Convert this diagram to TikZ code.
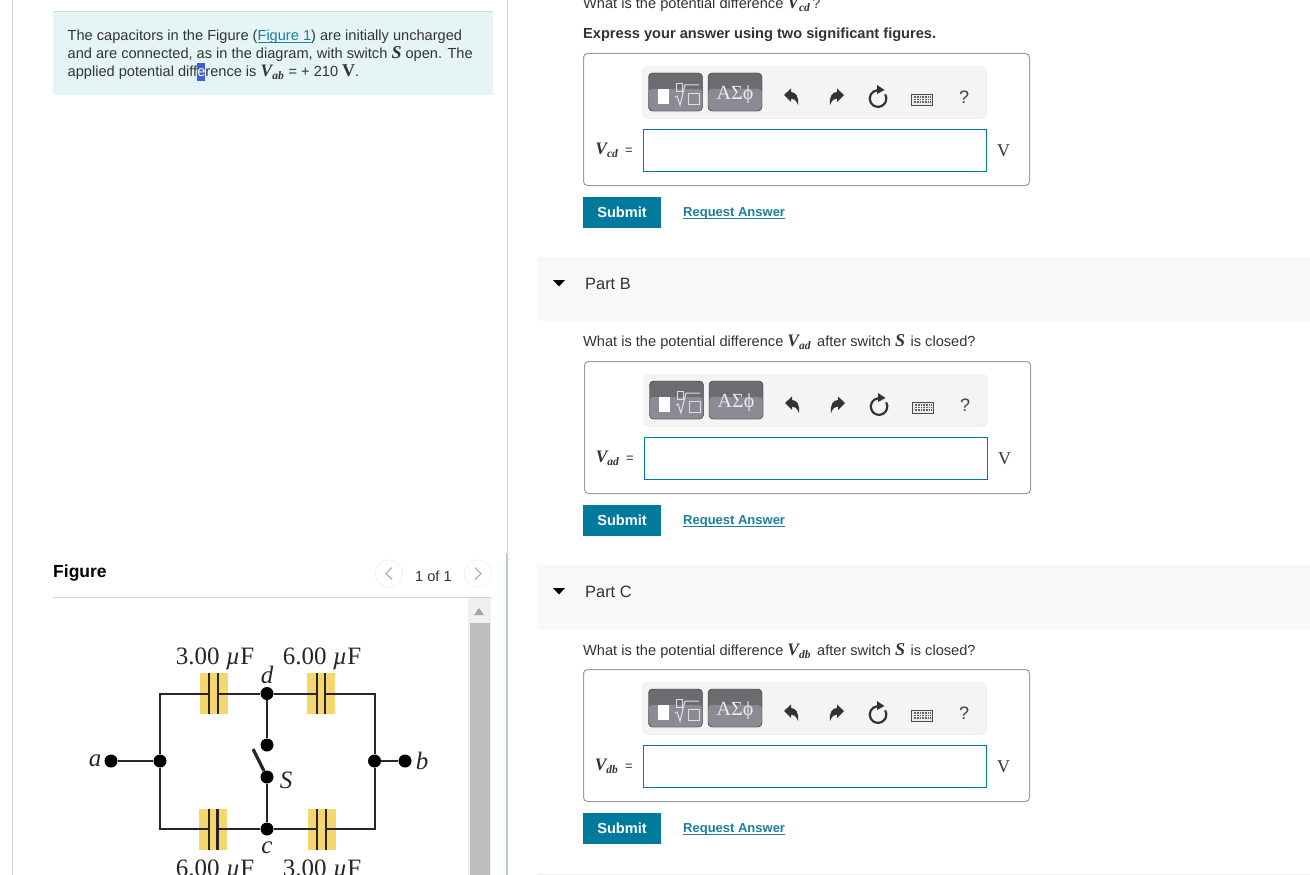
\documentclass[tikz,border=0pt]{standalone}
\usepackage{fontspec}
\usetikzlibrary{positioning}
\setmainfont{Liberation Sans}
\newfontfamily\timesfont{Liberation Serif}
\definecolor{bodygray}{HTML}{333333}
\definecolor{panelline}{HTML}{D3D6D9}
\definecolor{tealbox}{HTML}{E5F5F6}
\definecolor{linkteal}{HTML}{1A7FA0}
\definecolor{btnteal}{HTML}{007A9C}
\definecolor{capyellow}{HTML}{F5D76E}
\definecolor{wirecol}{HTML}{262626}
\definecolor{selblue}{HTML}{3A62D8}
\definecolor{bandgray}{HTML}{F8F8F8}
\definecolor{barhigh}{HTML}{F4F4F4}
\definecolor{btnhigh}{HTML}{6C6C70}
\definecolor{btnlow}{HTML}{8C8A94}
\definecolor{sideblue}{HTML}{B8CCE0}
\newcommand{\vsym}[2]{{\timesfont\bfseries\itshape\fontsize{17.5}{16}\selectfont #1\raisebox{-3pt}{\fontsize{11.5}{10}\selectfont #2}}}
\newcommand{\ssym}{{\timesfont\itshape\bfseries\fontsize{18}{16}\selectfont S}}
\tikzset{
  txt/.style={anchor=west, inner sep=0, text=bodygray, font=\fontsize{14.6}{18}\selectfont},
  dot/.style={circle, fill=black, inner sep=0, minimum size=13pt},
  wire/.style={line width=2pt, draw=wirecol},
  plate/.style={fill=wirecol, inner sep=0, minimum width=2.4pt, minimum height=41pt},
  capbox/.style={fill=capyellow, inner sep=0, minimum width=28pt, minimum height=41pt},
  caplabel/.style={inner sep=0, text=wirecol, font=\timesfont\fontsize{25}{25}\selectfont},
  letter/.style={inner sep=0, text=wirecol, font=\timesfont\itshape\fontsize{25}{25}\selectfont},
  tbtn/.style={draw=black!85, rounded corners=4pt, fill=btnhigh, minimum width=54pt, minimum height=38pt, inner sep=0,
    path picture={\fill[btnlow] ([yshift=3pt]path picture bounding box.west) rectangle (path picture bounding box.south east) ;}},
  submitbtn/.style={fill=btnteal, text=white, minimum width=78pt, minimum height=31pt, inner sep=0, font=\bfseries\fontsize{14.6}{18}\selectfont},
  reqlink/.style={anchor=west, inner sep=0, text=linkteal, font=\bfseries\fontsize{13}{16}\selectfont},
  undoicon/.pic={
    \fill[black!80] (-7, -1) -- (0, -7.5) -- (0, -4) .. controls (5, -4) and (8, 1) .. (7, 9)
      .. controls (5, 4) and (3, 2.5) .. (0, 2.5) -- (0, 6) -- cycle ;
  },
}
\begin{document}
\begin{tikzpicture}[x=1pt, y=-1pt]
  \path[use as bounding box, clip] (0, 0) rectangle (1310, 875) ;
  \fill[white] (0, 0) rectangle (1310, 875) ;
  % left panel
  \draw[panelline, line width=1pt] (12.5, 0) -- (12.5, 875) ;
  \draw[panelline, line width=1pt] (507, 0) -- (507, 553) ;
  \draw[sideblue, line width=1.5pt] (507, 553) -- (507, 875) ;
  \fill[tealbox] (53, 11) rectangle (493, 95) ;
  \draw[panelline, line width=1pt] (53, 11.5) -- (493, 11.5) ;
  \node[txt, anchor=north west, align=left] (intro) at (67.5, 30) {The capacitors in the Figure (\textcolor{linkteal}{\underline{\smash{Figure 1}}}) are initially uncharged\\
    and are connected, as in the diagram, with switch \ssym{} open. The\\
    applied potential diff{\setlength{\fboxsep}{0pt}\colorbox{selblue}{\rule[-4pt]{0pt}{18pt}\textcolor{white}{e}}}rence is \vsym{V}{ab}\,\,= + 210 {\timesfont\bfseries\fontsize{18}{16}\selectfont V}.} ;
  \node[txt, text=black, font=\bfseries\fontsize{17.5}{18}\selectfont] (figtitle) at (53, 573.5) {Figure} ;
  \node[txt] (pager) at (415, 576) {1 of 1} ;
  \draw[panelline, line width=1pt] (53, 597.5) -- (492, 597.5) ;
  \node[circle, draw=black!10, fill=white, minimum size=27pt, inner sep=0] (prevbtn) at (389, 573.5) {} ;
  \node[circle, draw=black!10, fill=white, minimum size=27pt, inner sep=0] (nextbtn) at (478, 573.5) {} ;
  \draw[black!30, line width=1.2pt] (392, 567.5) -- (386, 573.5) -- (392, 579.5) ;
  \draw[black!30, line width=1.2pt] (475, 567.5) -- (481, 573.5) -- (475, 579.5) ;
  \fill[black!6] (468, 598) rectangle (491, 875) ;
  \fill[black!26] (470, 623) rectangle (490, 875) ;
  \fill[black!35] (474, 615) -- (484, 615) -- (479, 608) -- cycle ;
  % capacitors
  \node[capbox] (c1box) at (214, 693.5) {} ;
  \node[capbox] (c2box) at (321, 693.5) {} ;
  \node[capbox] (c3box) at (213, 829) {} ;
  \node[capbox] (c4box) at (321.5, 829) {} ;
  \node[plate] (c1l) at (209, 693.5) {} ;
  \node[plate] (c1r) at (218, 693.5) {} ;
  \node[plate] (c2l) at (317, 693.5) {} ;
  \node[plate] (c2r) at (325, 693.5) {} ;
  \node[plate] (c3l) at (209, 829) {} ;
  \node[plate] (c3r) at (217.5, 829) {} ;
  \node[plate] (c4l) at (317, 829) {} ;
  \node[plate] (c4r) at (326, 829) {} ;
  % junctions
  \node[dot] (a) at (111, 761) {} ;
  \node[dot] (left) at (160, 761) {} ;
  \node[dot] (right) at (374.5, 761) {} ;
  \node[dot] (b) at (405, 761) {} ;
  \node[dot] (d) at (267, 693.5) {} ;
  \node[dot] (c) at (267, 829) {} ;
  \node[dot] (sup) at (267, 745) {} ;
  \node[dot] (slow) at (267, 777) {} ;
  \coordinate (tl) at (159, 693.5) ;
  \coordinate (tr) at (374.5, 693.5) ;
  \coordinate (bl) at (159, 829) ;
  \coordinate (br) at (374.5, 829) ;
  \coordinate (lever) at (253, 749) ;
  \draw[wire] (a) -- (left) ;
  \draw[wire] (left) -- (left |- tl) -- (c1l) ;
  \draw[wire] (left) -- (left |- bl) -- (c3l) ;
  \draw[wire] (c1r) -- (d) -- (c2l) ;
  \draw[wire] (c3r) -- (c) -- (c4l) ;
  \draw[wire] (c2r) -- (tr) -- (right) ;
  \draw[wire] (c4r) -- (br) -- (right) ;
  \draw[wire] (right) -- (b) ;
  \draw[wire] (d) -- (sup) ;
  \draw[wire] (slow) -- (c) ;
  \draw[line width=3.2pt, draw=wirecol] (slow) -- (lever) ;
  \node[caplabel] (c1lab) at (215, 659) {3.00 \textit{µ}F} ;
  \node[caplabel] (c2lab) at (322, 659) {6.00 \textit{µ}F} ;
  \node[caplabel] (c3lab) at (215, 871) {6.00 \textit{µ}F} ;
  \node[caplabel] (c4lab) at (322, 871) {3.00 \textit{µ}F} ;
  \node[letter] (dlab) at (267, 675) {d} ;
  \node[letter] (clab) at (267, 848) {c} ;
  \node[letter] (alab) at (95, 761) {a} ;
  \node[letter] (blab) at (422, 761) {b} ;
  \node[letter] (slab) at (286, 780) {S} ;
  % right side
  \node[txt] (whatcd) at (583, 4) {What is the potential difference \vsym{V}{cd}\,?} ;
  \node[txt, font=\bfseries\fontsize{14.6}{18}\selectfont] (express) at (583, 35) {Express your answer using two significant figures.} ;
  \fill[bandgray] (537, 257) rectangle (1310, 321) ;
  \fill[bandgray] (537, 565) rectangle (1310, 629) ;
  \foreach \pn/\py in {B/283, C/591} {
    \fill[black] (553, \py - 3) -- (565, \py - 3) -- (559, \py + 3.5) -- cycle ;
    \node[txt, font=\fontsize{16.4}{18}\selectfont] (part\pn) at (585, \py + 1) {Part \pn} ;
  }
  \node[txt] (whatad) at (583, 342) {What is the potential difference \vsym{V}{ad}\hspace{2.5pt} after switch \ssym{}\hspace{1.5pt} is closed?} ;
  \node[txt] (whatdb) at (583, 651) {What is the potential difference \vsym{V}{db}\hspace{2.5pt} after switch \ssym{}\hspace{1.5pt} is closed?} ;
  \draw[black!6, line width=1pt] (537, 874.5) -- (1310, 874.5) ;
  \foreach \pn/\py in {a/0, b/308, c/616} {
    \node[submitbtn] (submit\pn) at (622, 212 + \py) {Submit} ;
    \node[reqlink] (request\pn) at (683, 217.5 + \py) {\underline{\smash{Request Answer}}} ;
  }
  % answer blocks
  \foreach \pn/\dx/\dy/\sb in {a/0/0/cd, b/1/308/ad, c/0/616/db} {
    \begin{scope}[shift={(\dx, \dy)}]
      \draw[black!38, line width=1pt, rounded corners=4pt] (583.5, 53.5) rectangle (1029.5, 185.5) ;
      \draw[black!10, fill=barhigh, rounded corners=6pt] (642.5, 66.5) rectangle (986.5, 118.5) ;
      \node[tbtn] (root\pn) at (675.5, 92) {} ;
      \node[tbtn] (greek\pn) at (735, 92) {} ;
      \node[inner sep=0, text=black!8, font=\timesfont\fontsize{20}{20}\selectfont] (glyph\pn) at (735, 95) {ΑΣϕ} ;
      \fill[white] (658, 89) rectangle (669, 104) ;
      \draw[black!12, line width=0.8pt] (676, 83) rectangle (682, 91) ;
      \draw[black!12, line width=0.8pt] (688, 93) rectangle (699, 104) ;
      \draw[black!12, line width=1pt] (675, 97) -- (677, 96) -- (680, 105) -- (685, 85) -- (699, 85) ;
      \pic at (791, 96) {undoicon} ;
      \pic[xscale=-1] at (837, 96) {undoicon} ;
      \draw[black!80, line width=2.2pt] (885.2, 94.4) arc (-30:265:8.3) ;
      \fill[black!80] (877, 85) -- (884.5, 90) -- (877, 94) -- cycle ;
      \draw[black!70, fill=black!8, line width=0.8pt] (911.5, 94.5) rectangle (932.5, 105.5) ;
      \foreach \ky in {97, 99.5, 102} {
        \draw[black!60, line width=1.2pt, dash pattern=on 1pt off 0.6pt] (913.5, \ky) -- (930.5, \ky) ;
      }
      \node[inner sep=0, text=black!75, font=\fontsize{18}{18}\selectfont] (help\pn) at (964, 97) {?} ;
      \node[draw=btnteal, line width=1pt, minimum width=343pt, minimum height=42pt, inner sep=0] (input\pn) at (815, 150.5) {} ;
      \node[txt, anchor=east, left=10pt of input\pn, font=\fontsize{13}{16}\selectfont] (label\pn) {\vsym{V}{\sb}\ \ =} ;
      \node[inner sep=0, text=bodygray, font=\timesfont\fontsize{18}{16}\selectfont, right=10pt of input\pn] (unit\pn) {V} ;
    \end{scope}
  }
\end{tikzpicture}
\end{document}
